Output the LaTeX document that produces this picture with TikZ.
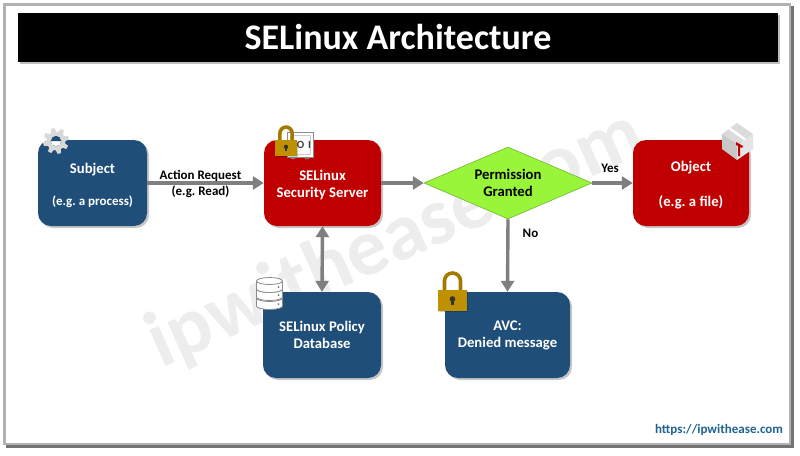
\documentclass[tikz,border=0pt]{standalone}
\usepackage{fontspec}
\setmainfont{Carlito}
\usetikzlibrary{arrows.meta,shapes.geometric,calc}
\definecolor{bluebox}{HTML}{1F4E79}
\definecolor{redbox}{HTML}{C00000}
\definecolor{greenbox}{HTML}{99F53A}
\definecolor{gold}{HTML}{BF9000}
\definecolor{arrowgray}{HTML}{7F7F7F}
\definecolor{linkblue}{HTML}{1F6391}
\tikzset{
  x=1pt,y=-1pt,
  flowbox/.style={rounded corners=13pt,minimum width=#1,minimum height=86pt,inner sep=0pt,
    align=center,text=white,font=\bfseries\fontsize{14.7}{17}\selectfont},
  shade box/.style={fill=black,opacity=.22,rounded corners=13pt},
  connector/.style={draw=arrowgray,line width=3.4pt,-{Triangle[width=13pt,length=11pt]}},
  twoway/.style={draw=arrowgray,line width=3.4pt,{Triangle[width=13pt,length=11pt]}-{Triangle[width=13pt,length=11pt]}},
  edgelabel/.style={inner sep=0pt,font=\bfseries\fontsize{13}{15}\selectfont,text=black},
}
\newcommand{\drawlock}[3]{% x, y of body top-left, scale
  \begin{scope}[shift={(#1,#2)},scale=#3]
    \draw[gold!85!black,line width=3.6pt] (6.5,1) -- (6.5,-9) arc[start angle=180,end angle=360,radius=8] -- (22.5,1);
    \fill[black,opacity=.2] (1,1) rectangle (30,22);
    \fill[gold] (0,0) rectangle (29,21);
    \fill[black!80] (14.5,9) circle (2.8);
    \fill[black!80] (13.4,9) rectangle (15.6,15);
  \end{scope}}
\begin{document}
\frenchspacing
\begin{tikzpicture}
\useasboundingbox (0,0) rectangle (800,455);
\fill[white] (0,0) rectangle (800,455);
% frame
\fill[black!55] (6,6) rectangle (794,448);
\fill[black!30] (3,3) rectangle (791,445);
\fill[white] (6,6) rectangle (789,443);
% watermark
\node[rotate=24,text=black!7,inner sep=0pt,font=\bfseries\fontsize{81}{81}\selectfont] (mark) at (396,240) {ipwithease.com};
% title
\fill[black!25] (20,15) rectangle (780,64);
\node[fill=black,text=white,minimum width=760pt,minimum height=49pt,inner sep=0pt,
  font=\bfseries\fontsize{36}{38}\selectfont] (title) at (398,37.5) {SELinux Architecture};
% shadows
\fill[shade box] (40,142) rectangle (149,228);
\fill[shade box] (266,142) rectangle (383,228);
\fill[shade box] (635,142) rectangle (751,228);
\fill[shade box] (265,294) rectangle (383,380);
\fill[shade box] (447,294) rectangle (572,380);
% boxes
\node[flowbox=109pt,fill=bluebox] (subject) at (92.5,183) {\rule{0pt}{15pt}Subject\\[15pt]{\fontsize{13}{15}\selectfont (e.g. a process)}};
\node[flowbox=117pt,fill=redbox] (server) at (322.5,183) {\mbox{}\\[-3pt]SELinux\\Security Server};
\node[flowbox=116pt,fill=redbox] (object) at (691,183) {\rule{0pt}{14pt}Object\\[18pt](e.g. a file)};
\node[flowbox=118pt,fill=bluebox] (policy) at (322,335) {SELinux Policy\\Database};
\node[flowbox=125pt,fill=bluebox] (avc) at (507.5,335) {AVC:\\Denied message};
\node[diamond,aspect=2.33,fill=greenbox,draw=greenbox!70!black,line width=.5pt,inner sep=0pt,
  minimum width=168pt,minimum height=72pt,align=center,text=black,
  font=\bfseries\fontsize{14.7}{17}\selectfont] (decision) at (508,183) {Permission\\Granted};
% connectors
\draw[connector] (subject.east) -- (server.west);
\draw[connector] (server.east) -- (decision.west);
\draw[connector] (decision.east) -- (object.west);
\draw[connector] (decision.south) -- (avc.north);
\draw[twoway] (server.south) -- (policy.north);
% connector labels
\node[edgelabel] (actionlabel) at (200.5,176) {Action Request};
\node[edgelabel] (readlabel) at (200.5,192) {(e.g. Read)};
\node[edgelabel] (yeslabel) at (610,168.5) {Yes};
\node[edgelabel] (nolabel) at (530.5,233.5) {No};
% gear icon
\begin{scope}[shift={(56,141)}]
  \fill[black!15,even odd rule]
    plot[smooth cycle,tension=.12] coordinates {
      (0:9.5) (15:9.5) (22:13) (38:13) (45:9.5) (60:9.5) (67:13)(83:13) (90:9.5) (105:9.5) (112:13)(128:13)
      (135:9.5) (150:9.5) (157:13)(173:13) (180:9.5) (195:9.5) (202:13)(218:13) (225:9.5) (240:9.5) (247:13)(263:13)
      (270:9.5) (285:9.5) (292:13)(308:13) (315:9.5) (330:9.5) (337:13)(353:13)}
    (0,0) circle (5.5);
  \fill[white] (0,0) circle (5.2);
  \fill[bluebox] (-5.2,0) arc[start angle=180,end angle=360,radius=5.2] -- cycle;
\end{scope}
% safe and lock icon
\draw[black!45,fill=white,line width=1pt] (287,132) rectangle (313,157);
\draw[black!20,line width=1pt] (290,135) rectangle (310,154);
\fill[black!50] (291,157) rectangle (295,159) (305,157) rectangle (309,159);
\node[inner sep=0pt,text=black!75,font=\bfseries\fontsize{11}{11}\selectfont] (safemark) at (304,145) {O\,\,I};
\drawlock{275}{140}{.76}
% database icon
\begin{scope}[shift={(269.5,0)}]
  \foreach \y in {302,293,285}{
    \draw[black!45,fill=white,line width=.8pt] (-13,\y-4) -- (-13,\y+4) arc[start angle=180,end angle=360,x radius=13,y radius=-3.5] -- (13,\y-4);
    \draw[black!45,fill=white,line width=.8pt] (0,\y-4) ellipse[x radius=13,y radius=3.5];
    \fill[black!55] (9,\y+2) circle (1);
  }
\end{scope}
% lock icon
\drawlock{438}{290}{1}
% box icon
\fill[black!14] (737,123) -- (753,134) -- (737,145) -- (722,134) -- cycle;
\fill[black!22] (722,134) -- (737,145) -- (737,160) -- (722,149) -- cycle;
\fill[black!10] (737,145) -- (753,134) -- (753,149) -- (737,160) -- cycle;
\draw[white,line width=2.5pt] (729,128) -- (745,139.5);
\fill[redbox] (736,142) -- (743,146) -- (742,148) -- (740,147) -- (740,156) -- (738,156) -- (738,146) -- (736,145) -- cycle;
% link
\node[inner sep=0pt,text=linkblue,font=\bfseries\fontsize{13}{14}\selectfont] (link) at (719,430) {https://ipwithease.com};
\end{tikzpicture}
\end{document}
